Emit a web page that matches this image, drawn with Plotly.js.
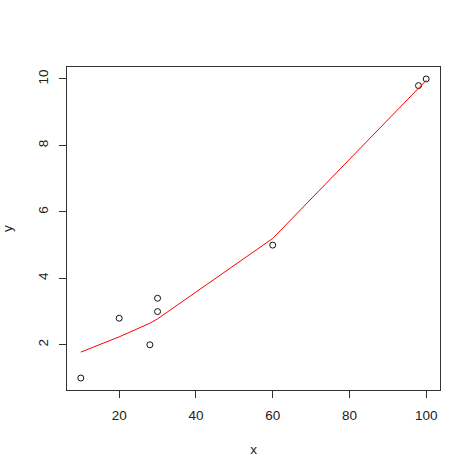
<!DOCTYPE html>
<html>
<head>
<meta charset="utf-8">
<script src="https://cdn.plot.ly/plotly-3.0.1.min.js"></script>
<style>html,body{margin:0;padding:0;background:#fff;}#chart{width:474px;height:473px;}</style>
</head>
<body>
<div id="chart"></div>
<script>
const xPoints = [10, 20, 28, 30, 30, 60, 98, 100];
const yPoints = [1, 2.8, 2, 3, 3.4, 5, 9.8, 10];
const xFit = [10, 20, 28, 30, 60, 98, 100];
const yFit = [1.78, 2.24, 2.65, 2.78, 5.2, 9.72, 9.96];
const xTicks = [20, 40, 60, 80, 100];
const yTicks = [2, 4, 6, 8, 10];

const font = {family: 'Liberation Sans, Arial, sans-serif', size: 13.5, color: '#222'};
const axisCommon = {
  showgrid: false, zeroline: false, showline: true, mirror: true,
  linecolor: '#333', linewidth: 1, ticks: 'outside', ticklen: 7, tickwidth: 1,
  tickcolor: '#333', tickfont: font, tickmode: 'array', ticklabelstandoff: 6
};

Plotly.newPlot('chart', [
  {x: xPoints, y: yPoints, type: 'scatter', mode: 'markers',
   marker: {symbol: 'circle-open', size: 6, color: '#111', line: {width: 1, color: '#111'}},
   hoverinfo: 'skip'},
  {x: xFit, y: yFit, type: 'scatter', mode: 'lines',
   line: {color: '#ff0000', width: 1}, hoverinfo: 'skip'}
], {
  width: 474, height: 473,
  margin: {l: 67, r: 34, t: 67, b: 83},
  paper_bgcolor: '#fff', plot_bgcolor: '#fff',
  showlegend: false,
  xaxis: Object.assign({}, axisCommon, {
    range: [6.4, 103.6], tickvals: xTicks, ticktext: xTicks.map(String),
    title: {text: 'x', font: font, standoff: 22}
  }),
  yaxis: Object.assign({}, axisCommon, {
    range: [0.64, 10.36], tickvals: yTicks, ticktext: yTicks.map(String),
    tickangle: -90,
    title: {text: 'y', font: font, standoff: 22}
  })
}, {staticPlot: true, displayModeBar: false});
</script>
</body>
</html>
